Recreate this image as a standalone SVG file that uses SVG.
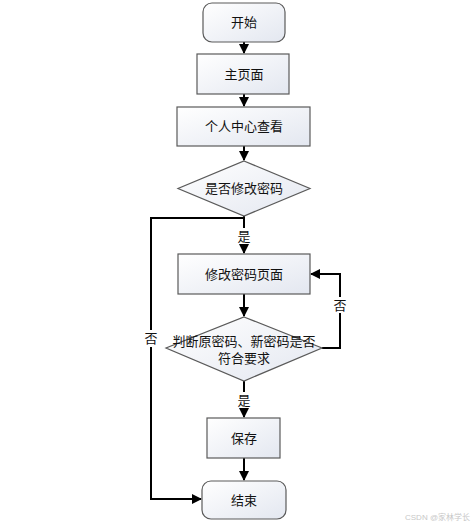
<svg xmlns="http://www.w3.org/2000/svg" width="474" height="526" viewBox="0 0 474 526">
<style>
.n{stroke:#5a5a5a;stroke-width:1.2;fill:url(#g)}
.t{font-family:"Liberation Sans","Noto Sans CJK SC",sans-serif;font-size:13px;fill:#111;text-anchor:middle}
.c{stroke:#000;stroke-width:2;fill:none}
.l{font-family:"Liberation Sans","Noto Sans CJK SC",sans-serif;font-size:13px;fill:#111;text-anchor:middle}
</style>
<defs>
<linearGradient id="g" x1="0" y1="0" x2="1" y2="1">
<stop offset="0" stop-color="#ffffff"/>
<stop offset="1" stop-color="#e3e7f0"/>
</linearGradient>
<marker id="a" markerWidth="10" markerHeight="10" refX="9" refY="5" orient="auto" markerUnits="userSpaceOnUse">
<path d="M0,0 L10,5 L0,10 Z" fill="#000"/>
</marker>
</defs>
<rect width="474" height="526" fill="#fff"/>
<g id="connectors">
<path class="c" d="M244,42 V53" marker-end="url(#a)"/>
<path class="c" d="M244,94 V106" marker-end="url(#a)"/>
<path class="c" d="M244,146 V160" marker-end="url(#a)"/>
<path class="c" d="M244,216 V253" marker-end="url(#a)"/>
<path class="c" d="M244,218 H151 V499 H201" marker-end="url(#a)"/>
<path class="c" d="M244,294 V316" marker-end="url(#a)"/>
<path class="c" d="M322,348 H340 V274 H311" marker-end="url(#a)"/>
<path class="c" d="M244,381 V417" marker-end="url(#a)"/>
<path class="c" d="M244,458 V480" marker-end="url(#a)"/>
<rect x="236" y="228" width="16" height="16" fill="#fff"/>
<text class="l" x="244" y="241">是</text>
<rect x="236" y="392" width="16" height="16" fill="#fff"/>
<text class="l" x="244" y="405">是</text>
<rect x="143" y="330" width="16" height="17" fill="#fff"/>
<text class="l" x="151" y="343">否</text>
<rect x="332" y="297" width="16" height="16" fill="#fff"/>
<text class="l" x="340" y="310">否</text>
</g>
<g id="start">
<rect class="n" x="203" y="3" width="82" height="39" rx="9"/>
<text class="t" x="244" y="27">开始</text>
</g>
<g id="home">
<rect class="n" x="197" y="54" width="92" height="40"/>
<text class="t" x="244" y="79">主页面</text>
</g>
<g id="profile">
<rect class="n" x="177" y="107" width="133" height="39"/>
<text class="t" x="244" y="131">个人中心查看</text>
</g>
<g id="decide1">
<polygon class="n" points="244,161 310,188.5 244,216 178,188.5"/>
<text class="t" x="244" y="193">是否修改密码</text>
</g>
<g id="changepw">
<rect class="n" x="178" y="254" width="132" height="40"/>
<text class="t" x="244" y="279">修改密码页面</text>
</g>
<g id="decide2">
<polygon class="n" points="244,317 322,348 244,381 166,348"/>
<text class="t" x="244" y="346">判断原密码、新密码是否</text>
<text class="t" x="244" y="363">符合要求</text>
</g>
<g id="save">
<rect class="n" x="207" y="418" width="73" height="40"/>
<text class="t" x="244" y="443">保存</text>
</g>
<g id="end">
<rect class="n" x="202" y="481" width="84" height="38" rx="9"/>
<text class="t" x="244" y="505">结束</text>
</g>
<text x="470" y="520" font-family="Liberation Sans,'Noto Sans CJK SC',sans-serif" font-size="8" fill="#c8c8c8" text-anchor="end">CSDN @家林学长</text>
</svg>
